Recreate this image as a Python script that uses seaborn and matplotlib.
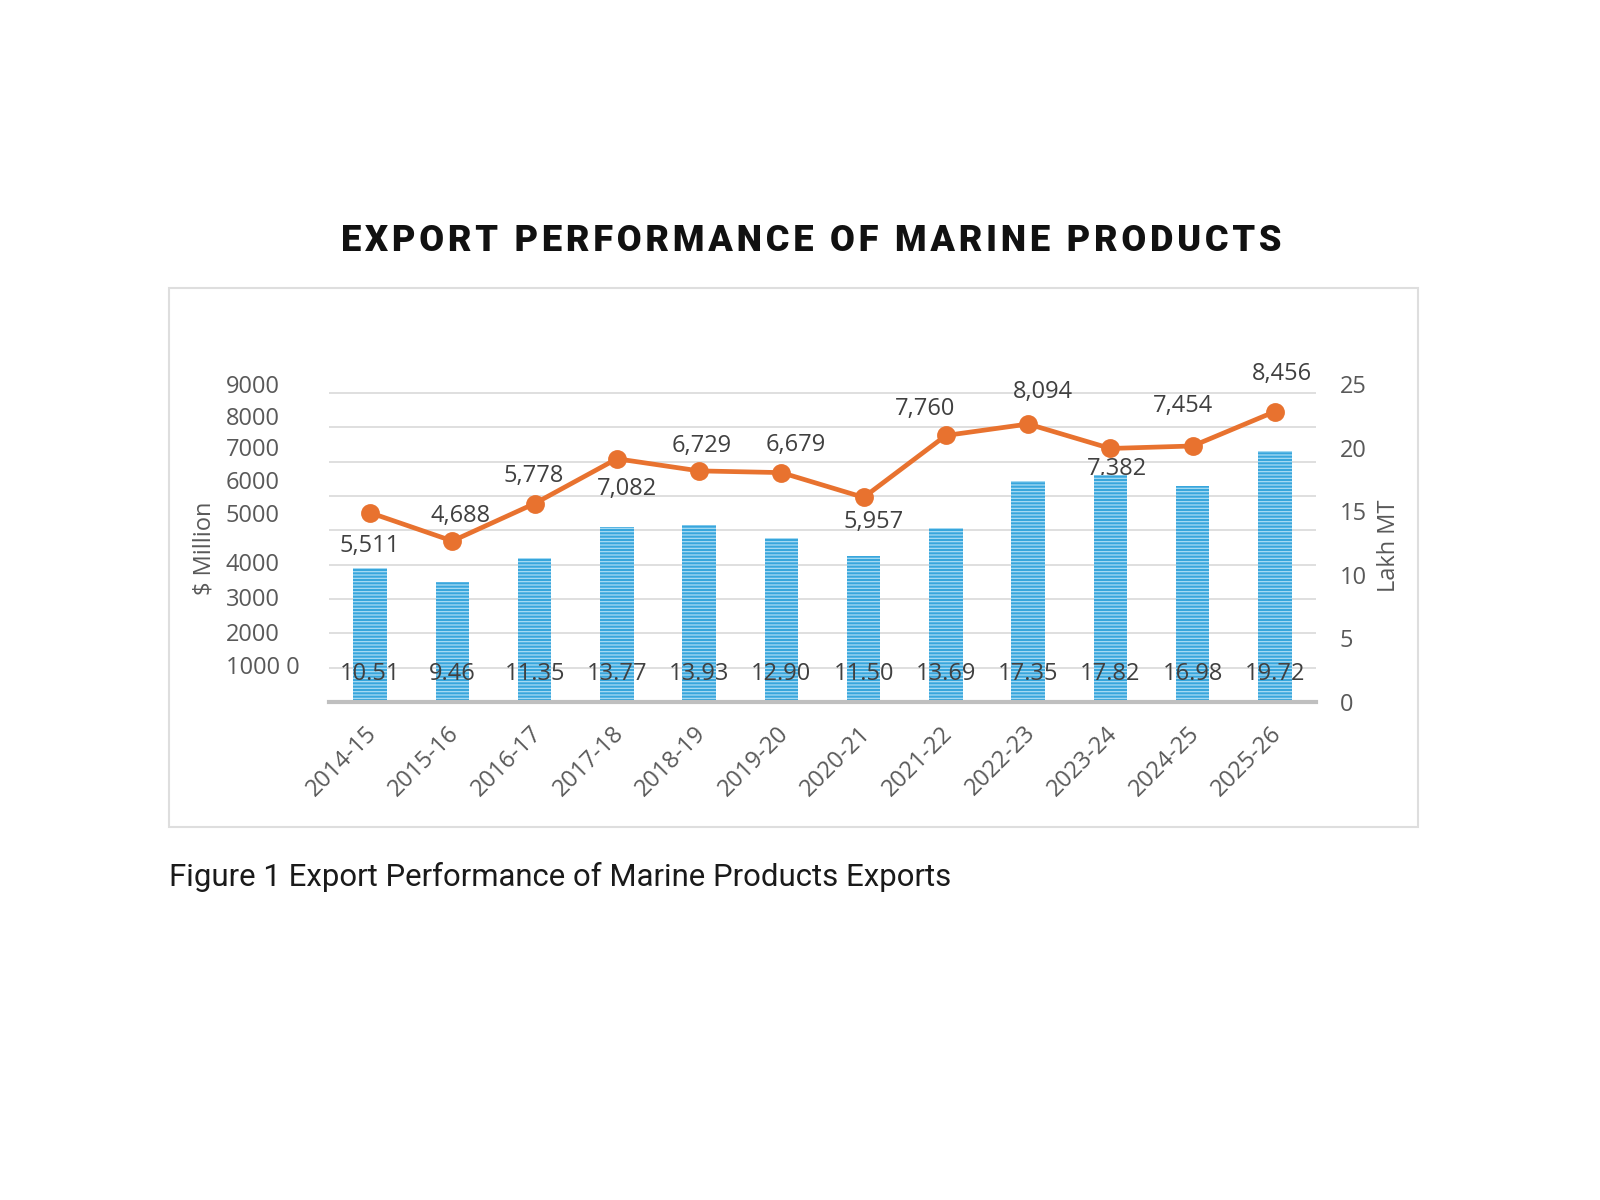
import matplotlib
matplotlib.use("Agg")
import matplotlib.pyplot as plt
import seaborn as sns
import pandas as pd
from matplotlib.patches import Rectangle
from matplotlib.transforms import ScaledTranslation

# ---------------- data ----------------
years = ["2014-15", "2015-16", "2016-17", "2017-18", "2018-19", "2019-20",
         "2020-21", "2021-22", "2022-23", "2023-24", "2024-25", "2025-26"]
qty_lakh_mt = [10.51, 9.46, 11.35, 13.77, 13.93, 12.90, 11.50, 13.69, 17.35, 17.82, 16.98, 19.72]
value_musd = [5511, 4688, 5778, 7082, 6729, 6679, 5957, 7760, 8094, 7382, 7454, 8456]
left_tick_labels = ["9000", "8000", "7000", "6000", "5000", "4000", "3000", "2000", "1000 0"]
right_ticks = [0, 5, 10, 15, 20, 25]

# ---------------- layout / style ----------------
left_tick_pos = [9259, 8336, 7413, 6461, 5509, 4067, 3057, 2048, 1067]
label_offsets = [(0, -24), (6, 18), (-1, 20), (7, -22), (2, 18), (10, 20),
                 (7, -18), (-15, 19), (11, 23), (5, -15), (-7, 29), (5, 27)]
ORANGE = "#E8722F"
BAR = "#38A6DC"
STRIPE = "#A8DCF4"
TXT = "#404040"
TICK = "#595959"
FS = 17

sns.set_theme(style="white")
plt.rcParams["font.family"] = ["Open Sans", "DejaVu Sans"]
plt.rcParams["hatch.linewidth"] = 0.9

df = pd.DataFrame({"year": years, "qty": qty_lakh_mt, "value": value_musd})

fig = plt.figure(figsize=(16, 12), dpi=100)
ax = fig.add_axes([329 / 1600, 1 - 702 / 1200, 987 / 1600, 318 / 1200])
ax2 = ax.twinx()

# bars (right axis)
sns.barplot(data=df, x="year", y="qty", ax=ax2, width=0.41, color=BAR,
            saturation=1, edgecolor=STRIPE, linewidth=0, hatch="-----")
# line (left axis)
sns.pointplot(data=df, x="year", y="value", ax=ax, color=ORANGE,
              markersize=11, linewidth=3.4, errorbar=None)

for a in (ax, ax2):
    a.set_xlim(-0.5, 11.5)
    for s in a.spines.values():
        s.set_visible(False)

ax.set_ylim(0, 9000)
ax2.set_ylim(0, 25)

# gridlines on left axis every 1000
ax.set_yticks(range(1000, 10000, 1000), minor=True)
ax.grid(which="minor", axis="y", color="#d9d9d9", linewidth=1.2)
ax.grid(which="major", visible=False)
ax.tick_params(which="minor", length=0)

# left ticks (as laid out in the original)
ax.set_yticks(left_tick_pos, labels=left_tick_labels)
ax.tick_params(axis="y", which="major", length=0, pad=74.5, labelsize=FS, labelcolor=TICK)
for t in ax.get_yticklabels():
    t.set_horizontalalignment("left")

# right ticks
ax2.set_yticks(right_ticks)
ax2.tick_params(axis="y", length=0, pad=17, labelsize=FS, labelcolor=TICK)

# x ticks
ax.set_xticks(range(len(years)), labels=years, rotation=45, ha="right",
              rotation_mode="anchor", fontsize=FS, color=TICK)
ax.tick_params(axis="x", length=0, pad=14)
shift = ScaledTranslation(-5 / 100, 0, fig.dpi_scale_trans)
for t in ax.get_xticklabels():
    t.set_transform(t.get_transform() + shift)
ax2.tick_params(axis="x", length=0, labelbottom=False)
ax2.set_xlabel("")
ax.set_xlabel("")

# bottom axis line
ax2.spines["bottom"].set_visible(True)
ax2.spines["bottom"].set_color("#bfbfbf")
ax2.spines["bottom"].set_linewidth(3)

# axis titles
ax.set_ylabel("$ Million", fontsize=FS, color=TICK)
ax.yaxis.set_label_coords(-0.1135, 0.484)
ax2.set_ylabel("Lakh MT", fontsize=FS, color=TICK)
ax2.yaxis.set_label_coords(1.062, 0.49)

# data labels
for i, v in enumerate(value_musd):
    ax.annotate(f"{v:,}", (i, v), xytext=label_offsets[i], textcoords="offset points",
                ha="center", va="center", fontsize=FS, color=TXT)
for i, q in enumerate(qty_lakh_mt):
    ax2.text(i, 2.2, f"{q:.2f}", ha="center", va="center", fontsize=FS, color=TXT)

# chart box
fig.patches.append(Rectangle((169 / 1600, 1 - 827 / 1200), (1418 - 169) / 1600, (827 - 288) / 1200,
                             transform=fig.transFigure, fill=False, edgecolor="#dedede", linewidth=1.5))

# title and caption
fig.text(811 / 1600, 1 - 241 / 1200, "\u200a".join("EXPORT PERFORMANCE OF MARINE PRODUCTS"),
         ha="center", va="center", fontsize=26, fontweight=900,
         family=["Roboto", "DejaVu Sans"], color="#111111")
fig.text(169 / 1600, 1 - 877 / 1200, "Figure 1 Export Performance of Marine Products Exports",
         ha="left", va="center", fontsize=22.4, family=["Roboto", "DejaVu Sans"], color="#1a1a1a")

fig.savefig("out.png", dpi=100, facecolor="white")
